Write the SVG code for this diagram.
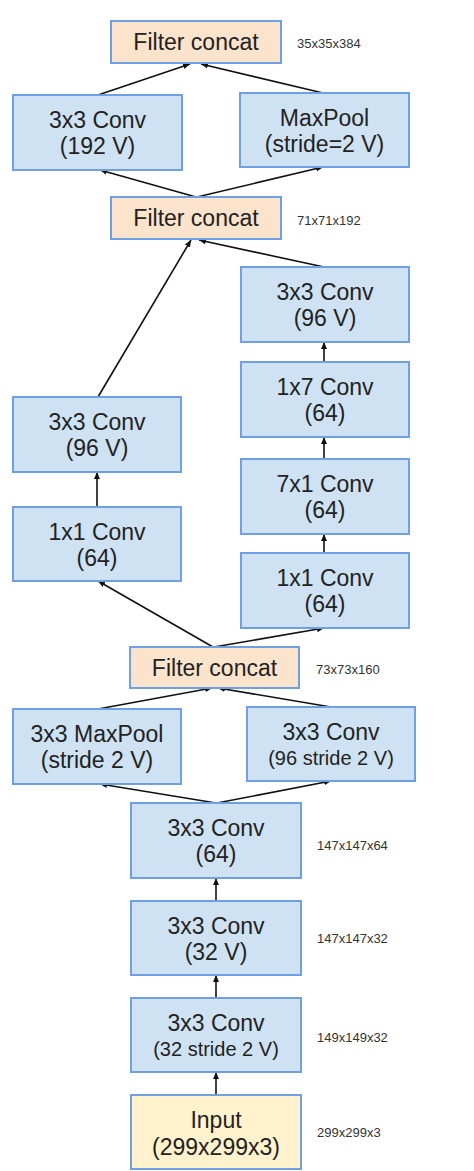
<svg xmlns="http://www.w3.org/2000/svg" width="474" height="1171" viewBox="0 0 474 1171">
<style>
.box{fill:#cfe2f3;stroke:#6fa0e6;stroke-width:2}
.cat{fill:#fce3cc;stroke:#6fa0e6;stroke-width:2}
.inp{fill:#fff2cc;stroke:#6fa0e6;stroke-width:2}
.t{font-family:"Liberation Sans",Arial,sans-serif;font-size:23px;fill:#222;text-anchor:middle}
.s{font-size:20px}
.d{font-family:"Liberation Sans",Arial,sans-serif;font-size:13px;fill:#333}
.e{fill:none;stroke:#111;stroke-width:1.6;marker-end:url(#ah)}
</style>
<defs>
<marker id="ah" markerWidth="8" markerHeight="8" refX="7" refY="4" orient="auto" markerUnits="userSpaceOnUse">
<path d="M0,1 L7,4 L0,7 Z" fill="#111"/>
</marker>
</defs>
<rect width="474" height="1171" fill="#fff"/>
<g id="edges">
<line class="e" x1="98" y1="95" x2="190" y2="64"/>
<line class="e" x1="323" y1="93" x2="201" y2="64"/>
<line class="e" x1="196" y1="197" x2="100" y2="170"/>
<line class="e" x1="197" y1="197" x2="323" y2="167"/>
<line class="e" x1="98" y1="397" x2="191" y2="240"/>
<line class="e" x1="324" y1="267" x2="199" y2="240"/>
<line class="e" x1="324" y1="362" x2="324" y2="342"/>
<line class="e" x1="324" y1="459" x2="324" y2="437"/>
<line class="e" x1="324" y1="553" x2="324" y2="534"/>
<line class="e" x1="97" y1="507" x2="97" y2="472"/>
<line class="e" x1="213" y1="647" x2="98" y2="581"/>
<line class="e" x1="214" y1="647" x2="324" y2="628"/>
<line class="e" x1="98" y1="709" x2="212" y2="688"/>
<line class="e" x1="331" y1="707" x2="218" y2="688"/>
<line class="e" x1="216" y1="803" x2="100" y2="784"/>
<line class="e" x1="217" y1="803" x2="331" y2="781"/>
<line class="e" x1="216" y1="901" x2="216" y2="878"/>
<line class="e" x1="216" y1="998" x2="216" y2="975"/>
<line class="e" x1="216" y1="1095" x2="216" y2="1072"/>
</g>
<g id="concat1">
<rect class="cat" x="111" y="21" width="170" height="42"/>
<text class="t" x="196" y="50">Filter concat</text>
<text class="d" x="297" y="48">35x35x384</text>
</g>
<g id="conv192">
<rect class="box" x="13" y="95" width="169" height="75"/>
<text class="t" x="97.5" y="128">3x3 Conv</text>
<text class="t" x="97.5" y="154">(192 V)</text>
</g>
<g id="maxpool1">
<rect class="box" x="240" y="93" width="169" height="74"/>
<text class="t" x="324.5" y="126">MaxPool</text>
<text class="t" x="324.5" y="152">(stride=2 V)</text>
</g>
<g id="concat2">
<rect class="cat" x="111" y="197" width="170" height="42"/>
<text class="t" x="196" y="226">Filter concat</text>
<text class="d" x="297" y="225">71x71x192</text>
</g>
<g id="convR96">
<rect class="box" x="241" y="267" width="168" height="75"/>
<text class="t" x="325" y="300">3x3 Conv</text>
<text class="t" x="325" y="326">(96 V)</text>
</g>
<g id="conv1x7">
<rect class="box" x="241" y="362" width="168" height="75"/>
<text class="t" x="325" y="395">1x7 Conv</text>
<text class="t" x="325" y="421">(64)</text>
</g>
<g id="conv7x1">
<rect class="box" x="241" y="459" width="168" height="75"/>
<text class="t" x="325" y="492">7x1 Conv</text>
<text class="t" x="325" y="518">(64)</text>
</g>
<g id="convR1x1">
<rect class="box" x="241" y="553" width="168" height="75"/>
<text class="t" x="325" y="586">1x1 Conv</text>
<text class="t" x="325" y="612">(64)</text>
</g>
<g id="convL96">
<rect class="box" x="13" y="397" width="168" height="75"/>
<text class="t" x="97" y="430">3x3 Conv</text>
<text class="t" x="97" y="456">(96 V)</text>
</g>
<g id="convL1x1">
<rect class="box" x="13" y="507" width="168" height="74"/>
<text class="t" x="97" y="540">1x1 Conv</text>
<text class="t" x="97" y="566">(64)</text>
</g>
<g id="concat3">
<rect class="cat" x="130" y="647" width="169" height="41"/>
<text class="t" x="214.5" y="676">Filter concat</text>
<text class="d" x="316" y="674">73x73x160</text>
</g>
<g id="maxpool2">
<rect class="box" x="13" y="709" width="168" height="75"/>
<text class="t" x="97" y="742">3x3 MaxPool</text>
<text class="t" x="97" y="768">(stride 2 V)</text>
</g>
<g id="conv96s2">
<rect class="box" x="247" y="707" width="168" height="74"/>
<text class="t" x="331" y="740">3x3 Conv</text>
<text class="t s" x="331" y="765">(96 stride 2 V)</text>
</g>
<g id="conv64">
<rect class="box" x="131" y="803" width="170" height="75"/>
<text class="t" x="216" y="836">3x3 Conv</text>
<text class="t" x="216" y="862">(64)</text>
<text class="d" x="317" y="850">147x147x64</text>
</g>
<g id="conv32v">
<rect class="box" x="131" y="901" width="170" height="74"/>
<text class="t" x="216" y="934">3x3 Conv</text>
<text class="t" x="216" y="960">(32 V)</text>
<text class="d" x="317" y="943">147x147x32</text>
</g>
<g id="conv32s2">
<rect class="box" x="131" y="998" width="170" height="74"/>
<text class="t" x="216" y="1031">3x3 Conv</text>
<text class="t s" x="216" y="1056">(32 stride 2 V)</text>
<text class="d" x="317" y="1042">149x149x32</text>
</g>
<g id="input">
<rect class="inp" x="131" y="1095" width="170" height="74"/>
<text class="t" x="216" y="1128">Input</text>
<text class="t" x="216" y="1155">(299x299x3)</text>
<text class="d" x="317" y="1137">299x299x3</text>
</g>
</svg>
